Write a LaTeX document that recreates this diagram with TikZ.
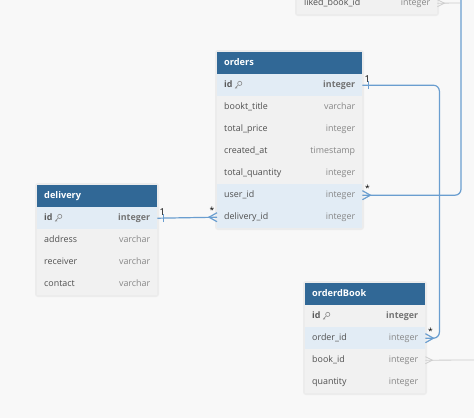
\documentclass[tikz,border=0pt]{standalone}
\usepackage{fontspec}
\setmainfont{Open Sans}
\definecolor{bg}{RGB}{248,248,248}
\definecolor{hdrc}{RGB}{49,104,150}
\definecolor{hlc}{RGB}{226,236,245}
\definecolor{plc}{RGB}{241,241,241}
\definecolor{namec}{RGB}{80,80,80}
\definecolor{typec}{RGB}{135,135,135}
\definecolor{pkc}{RGB}{90,90,90}
\definecolor{connc}{RGB}{106,158,208}
\definecolor{greyconn}{RGB}{205,205,205}
\definecolor{shadc}{RGB}{236,236,236}
\tikzset{
  row/.style={rectangle, inner sep=0, minimum height=22, draw=none},
  hdr/.style={rectangle, inner sep=0, minimum height=22, fill=hdrc},
  htxt/.style={inner sep=0, text=white, font=\fontsize{9.2}{11}\selectfont\bfseries, text height=6.6, text depth=1.8},
  fname/.style={inner sep=0, text=namec, font=\fontsize{8.9}{11}\selectfont, text height=6.6, text depth=1.8},
  ftype/.style={inner sep=0, text=typec, font=\fontsize{8.9}{11}\selectfont, text height=6.6, text depth=1.8},
  pkname/.style={inner sep=0, text=pkc, font=\fontsize{8.9}{11}\selectfont\bfseries, text height=6.6, text depth=1.8},
  pktype/.style={inner sep=0, text=pkc!85!white, font=\fontsize{8.9}{11}\selectfont\bfseries, text height=6.6, text depth=1.8},
  conn/.style={draw=connc, line width=1.2},
  gconn/.style={draw=greyconn, line width=0.8},
  card/.style={inner sep=0, text=black, font=\fontsize{9.5}{10}\selectfont},
  cardstar/.style={inner sep=0, text=black, font=\fontsize{8.5}{9}\selectfont},
  keyic/.style={draw=typec, line width=0.6},
}
% #1 node name, #2 x, #3 y top, #4 width, #5 fill, #6 name style, #7 type style, #8 field, #9 type
\newcommand\dbrow[9]{%
  \node[row, fill=#5, minimum width=#4, anchor=north west] (#1) at (#2,#3) {};
  \node[#6, anchor=west] (#1-n) at ([xshift=7]#1.west) {#8};
  \node[#7, anchor=east] (#1-t) at ([xshift=-7]#1.east) {#9};
}
\newcommand\keyicon[1]{%
  \draw[keyic] ([xshift=7.0,yshift=1.8]#1.east) circle (2.1);
  \draw[keyic] ([xshift=5.5,yshift=0.2]#1.east) -- ([xshift=2.3,yshift=-3.2]#1.east);
  \draw[keyic] ([xshift=3.3,yshift=-2.1]#1.east) -- ([xshift=4.4,yshift=-3.1]#1.east);
}
\begin{document}
\begin{tikzpicture}[x=1pt,y=-1pt]
\useasboundingbox (0,0) rectangle (474,418);
\clip (0,0) rectangle (474,418);
\fill[bg] (0,0) rectangle (474,418);

% shadows
\fill[shadc, rounded corners=3] (295,-12) rectangle (439,16);
\fill[shadc, rounded corners=3] (215,50) rectangle (364,230);
\fill[shadc, rounded corners=3] (35,183) rectangle (159,297);
\fill[shadc, rounded corners=3] (303,281) rectangle (427,395);

% top partial table
\dbrow{lk-lid}{297}{-8}{140}{plc}{fname}{ftype}{liked\_book\_id}{integer}

% orders
\node[hdr, minimum width=145, anchor=north west] (orders) at (217,52) {};
\node[htxt, anchor=west] (orders-h) at ([xshift=7]orders.west) {orders};
\dbrow{o-id}{217}{74}{145}{hlc}{pkname}{pktype}{id}{integer}
\keyicon{o-id-n}
\dbrow{o-bt}{217}{96}{145}{plc}{fname}{ftype}{bookt\_title}{varchar}
\dbrow{o-tp}{217}{118}{145}{plc}{fname}{ftype}{total\_price}{integer}
\dbrow{o-ca}{217}{140}{145}{plc}{fname}{ftype}{created\_at}{timestamp}
\dbrow{o-tq}{217}{162}{145}{plc}{fname}{ftype}{total\_quantity}{integer}
\dbrow{o-uid}{217}{184}{145}{hlc}{fname}{ftype}{user\_id}{integer}
\dbrow{o-did}{217}{206}{145}{hlc}{fname}{ftype}{delivery\_id}{integer}

% delivery
\node[hdr, minimum width=120, anchor=north west] (delivery) at (37,185) {};
\node[htxt, anchor=west] (delivery-h) at ([xshift=7]delivery.west) {delivery};
\dbrow{d-id}{37}{207}{120}{hlc}{pkname}{pktype}{id}{integer}
\keyicon{d-id-n}
\dbrow{d-ad}{37}{229}{120}{plc}{fname}{ftype}{address}{varchar}
\dbrow{d-rc}{37}{251}{120}{plc}{fname}{ftype}{receiver}{varchar}
\dbrow{d-ct}{37}{273}{120}{plc}{fname}{ftype}{contact}{varchar}

% orderdBook
\node[hdr, minimum width=120, anchor=north west] (orderdbook) at (305,283) {};
\node[htxt, anchor=west] (orderdbook-h) at ([xshift=7]orderdbook.west) {orderdBook};
\dbrow{ob-id}{305}{305}{120}{plc}{pkname}{pktype}{id}{integer}
\keyicon{ob-id-n}
\dbrow{ob-oid}{305}{327}{120}{hlc}{fname}{ftype}{order\_id}{integer}
\dbrow{ob-bid}{305}{349}{120}{plc}{fname}{ftype}{book\_id}{integer}
\dbrow{ob-qt}{305}{371}{120}{plc}{fname}{ftype}{quantity}{integer}

% grey connectors
\coordinate (gend1) at (474,360);
\draw[gconn] (ob-bid.east) -- (gend1);
\draw[gconn] ([yshift=-3.5]ob-bid.east) -- ([xshift=7]ob-bid.east) -- ([yshift=3.5]ob-bid.east);
\coordinate (gend2) at (460,3);
\draw[gconn] (lk-lid.east) -- (gend2);
\draw[gconn] ([yshift=-3.5]lk-lid.east) -- ([xshift=7]lk-lid.east) -- ([yshift=3.5]lk-lid.east);

% orders.id -> orderdBook.order_id
\draw[conn, rounded corners=6] (o-id.east) -- ++(77,0) |- (ob-oid.east);
\draw[conn] ([xshift=6,yshift=-4]o-id.east) -- ([xshift=6,yshift=4]o-id.east);
\draw[conn] ([yshift=-4.5]ob-oid.east) -- ([xshift=8]ob-oid.east) -- ([yshift=4.5]ob-oid.east);
\node[card] (c1) at ([xshift=5,yshift=6.5]o-id.east) {1};
\node[cardstar] (c2) at ([xshift=5,yshift=7]ob-oid.east) {*};

% users -> orders.user_id
\coordinate (utop) at (461,0);
\draw[conn, rounded corners=6] (utop) |- (o-uid.east);
\draw[conn] ([yshift=-4.5]o-uid.east) -- ([xshift=8]o-uid.east) -- ([yshift=4.5]o-uid.east);
\node[cardstar] (c3) at ([xshift=5,yshift=7]o-uid.east) {*};

% delivery.id -> orders.delivery_id
\draw[conn] (d-id.east) -- (o-did.west);
\draw[conn] ([xshift=6,yshift=-4]d-id.east) -- ([xshift=6,yshift=4]d-id.east);
\draw[conn] ([yshift=-4.5]o-did.west) -- ([xshift=-8]o-did.west) -- ([yshift=4.5]o-did.west);
\node[card] (c4) at ([xshift=5,yshift=6.5]d-id.east) {1};
\node[cardstar] (c5) at ([xshift=-5,yshift=7]o-did.west) {*};
\end{tikzpicture}
\end{document}
